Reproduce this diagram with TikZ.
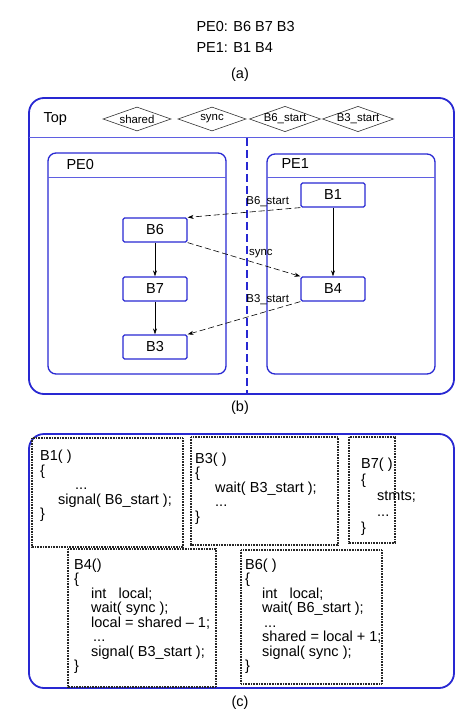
\documentclass[tikz,border=0pt]{standalone}
\usepackage{fontspec}
\setmainfont{Liberation Sans}
\usetikzlibrary{arrows.meta, positioning, shapes.geometric}
\definecolor{frameblue}{RGB}{40,40,210}
\definecolor{lineblue}{RGB}{95,95,225}

\tikzset{
  blk/.style={draw=frameblue, line width=1.2pt, rounded corners=1.5pt, minimum width=64pt, minimum height=24pt, inner sep=0pt, font=\fontsize{14.5}{16}\selectfont},
  sigvar/.style={draw=black!80, diamond, aspect=2.8, inner sep=0pt, minimum width=68pt, minimum height=24pt, line width=0.6pt, font=\fontsize{11.4}{13}\selectfont},
  flow/.style={-{Stealth[length=6pt,width=4pt]}, line width=0.6pt},
  msg/.style={flow, dash pattern=on 6pt off 3pt},
  msglbl/.style={font=\fontsize{11.4}{13}\selectfont, inner sep=1pt},
  outerframe/.style={draw=frameblue, line width=1.8pt, rounded corners=15pt},
  pebox/.style={draw=frameblue, line width=1.3pt, rounded corners=8pt},
  hdrline/.style={draw=lineblue, line width=1pt},
  codebox/.style={draw=black!85, line width=1.3pt, dash pattern=on 0.9pt off 0.7pt},
  listing/.style={anchor=north west, align=left, inner sep=0pt, font=\fontsize{14.5}{14.5}\selectfont},
  hdr/.style={font=\fontsize{14.5}{16}\selectfont}
}

\begin{document}
\begin{tikzpicture}[x=1pt, y=-1pt]
\useasboundingbox (0,0) rectangle (474,727);

% (a) schedule
\node[hdr, anchor=west] (sched0) at (193,27) {PE0: B6 B7 B3};
\node[hdr, anchor=west] (sched1) at (193,48) {PE1: B1 B4};
\node[hdr] (capa) at (240,75) {(a)};

% (b) top level with shared variables
\draw[outerframe] (29,98) rectangle (454,394);
\draw[hdrline] (29,138) -- (454,138);
\node[hdr, anchor=west] (toplbl) at (40,119) {Top};
\node[sigvar] (vshared) at (137,119) {shared};
\node[sigvar] (vsync) at (212,119) {sync};
\node[sigvar] (vbsix) at (285,119) {B6\_start};
\node[sigvar] (vbthree) at (358,119) {B3\_start};
\draw[frameblue, line width=1.5pt, dash pattern=on 8pt off 4pt] (247,138) -- (247,394);

% PE0
\draw[pebox] (48,153) rectangle (226,374);
\draw[hdrline] (48,178) -- (226,178);
\node[hdr, anchor=west] (pezero) at (63,165) {PE0};
\node[blk] (b6) at (155,230) {B6};
\node[blk] (b7) at (155,289) {B7};
\node[blk] (b3) at (155,347) {B3};

% PE1
\draw[pebox] (267,154) rectangle (435,374);
\draw[hdrline] (267,178) -- (435,178);
\node[hdr, anchor=west] (peone) at (278,164) {PE1};
\node[blk] (b1) at (333,195) {B1};
\node[blk] (b4) at (333,289) {B4};

% control flow
\draw[flow] (b6) -- (b7);
\draw[flow] (b7) -- (b3);
\draw[flow] (b1) -- (b4);

% signals between PEs
\draw[msg] (b1.south west) -- node[msglbl, pos=0.29, above=2pt] {B6\_start} (b6.north east);
\draw[msg] (b6.south east) -- node[msglbl, pos=0.65, above=5pt] {sync} (b4.north west);
\draw[msg] (b4.south west) -- node[msglbl, pos=0.29, above=5pt] {B3\_start} (b3.north east);

\node[hdr] (capb) at (240,408) {(b)};

% (c) code of the blocks
\draw[outerframe] (29,434) rectangle (454,688);

\draw[codebox] (32,438) rectangle (183,547);
\node[listing] (codeb1) at (40,450) {B1( )\\\{\\\hspace*{35pt}...\\\hspace*{18pt}signal( B6\_start );\\\}};

\draw[codebox] (191,437) rectangle (338,545);
\node[listing] (codeb3) at (195,452.5) {B3( )\\\{\\\hspace*{20pt}wait( B3\_start );\\\hspace*{20pt}...\\\}};

\draw[codebox] (349,437) rectangle (395,543);
\node[listing, font=\fontsize{14.5}{16}\selectfont] (codeb7) at (361,457.5) {B7( )\\\{\\\hspace*{16pt}stmts;\\\hspace*{16pt}...\\\}};

\draw[codebox] (68,549) rectangle (216,687);
\node[listing] (codeb4) at (74,558.5) {B4()\\\{\\\hspace*{17pt}int\ \ \ local;\\\hspace*{17pt}wait( sync );\\\hspace*{17pt}local = shared \textendash{} 1;\\\hspace*{19pt}...\\\hspace*{17pt}signal( B3\_start );\\\}};

\draw[codebox] (241,550) rectangle (382,684);
\node[listing] (codeb6) at (245,558.5) {B6( )\\\{\\\hspace*{17pt}int\ \ \ local;\\\hspace*{17pt}wait( B6\_start );\\\hspace*{19pt}...\\\hspace*{17pt}shared = local + 1;\\\hspace*{17pt}signal( sync );\\\}};

\node[hdr] (capc) at (240,703) {(c)};
\end{tikzpicture}
\end{document}
